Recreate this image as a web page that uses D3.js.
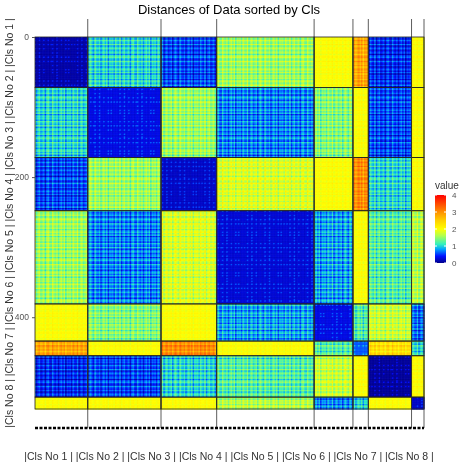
<!DOCTYPE html>
<html><head><meta charset="utf-8">
<script src="https://cdn.jsdelivr.net/npm/d3@7"></script>
<style>body{margin:0;background:#fff}svg,canvas{position:absolute;left:0;top:0}</style>
</head><body>
<canvas id="c" width="474" height="467"></canvas>
<svg id="s" width="474" height="467"></svg>
<script>
// cluster sizes (points per class, in sorted order)
const clusterSizes = [72, 100, 76, 133, 53, 21, 59, 17];
// mean distance between cluster blocks (row cluster x column cluster)
const blockMeans = [
 [0.10, 1.00, 0.50, 1.50, 2.00, 2.80, 0.40, 2.00],
 [1.00, 0.30, 1.50, 0.70, 1.40, 2.00, 0.50, 2.00],
 [0.50, 1.50, 0.20, 1.80, 2.00, 3.00, 1.00, 2.00],
 [1.50, 0.70, 1.80, 0.25, 0.80, 2.00, 1.20, 1.60],
 [2.00, 1.40, 2.00, 0.80, 0.30, 1.20, 1.70, 0.60],
 [2.80, 2.00, 3.00, 2.00, 1.20, 0.60, 2.30, 1.00],
 [0.40, 0.50, 1.00, 1.20, 1.70, 2.00, 0.05, 2.00],
 [2.00, 2.00, 2.00, 1.60, 0.70, 1.00, 2.00, 0.20]
];
// per-point stripe offsets (cycled)
const stripeOffsets = [0.1,-0.2,0.25,0,-0.1,0.3,-0.25,0.05,0.2,-0.15,0,0.15,-0.3,0.1,0.25,-0.05,-0.2,0.3,0,-0.1,0.15,-0.25,0.05,0.2,-0.1,0.2,-0.3,0.1,0];
const yTicks = [0, 200, 400];
const legendTicks = [0, 1, 2, 3, 4];
const title = "Distances of Data sorted by Cls";
const xLabel = clusterSizes.map((d,i)=>"|Cls No "+(i+1)+" |").join(" ");
const yLabel = clusterSizes.map((d,i)=>"|Cls No "+(i+1)+" |").reverse().join(" ");

const N = d3.sum(clusterSizes);
const starts = []; let acc = 0; clusterSizes.forEach(s=>{starts.push(acc); acc+=s;});
const clusterOf = i => { let k=0; while(k<clusterSizes.length-1 && i>=starts[k+1]) k++; return k; };

const L=35,R=424,T=37,B=409;
const x = d3.scaleLinear().domain([0,N]).range([L,R]);
const y = d3.scaleLinear().domain([0,N]).range([T,B]);
const color = d3.scaleLinear()
  .domain([0,0.4,0.8,1.1,1.6,2,2.5,3,4])
  .range(["#00008a","#0010ff","#00a0ff","#30f0c0","#b0ff50","#ffff00","#ffd000","#ff9000","#ff0000"])
  .clamp(true);

const ctx = document.getElementById("c").getContext("2d");
const cl = d3.range(N).map(clusterOf);
const SO = stripeOffsets.length;
const off = i => stripeOffsets[Math.floor(i/2)%SO];
for(let i=0;i<N;i++){
  for(let j=0;j<N;j++){
    const m = blockMeans[cl[i]][cl[j]];
    let v;
    if(cl[i]===cl[j]){
      const s = off(i)+off(j+5);
      v = m + (s>0.35 ? 0.3 : 0) + 0.1*s;
    } else {
      const amp = (m>=1.9 && m<=2.1) ? 0.35 : 0.9;
      v = m + amp*(off(i)+off(j+11));
    }
    ctx.fillStyle = color(Math.max(0,v));
    ctx.fillRect(x(j), y(i), x(j+1)-x(j)+0.5, y(i+1)-y(i)+0.5);
  }
}

const svg = d3.select("#s");
svg.append("text").attr("x",229).attr("y",14).attr("text-anchor","middle")
  .attr("font-family","Liberation Sans, Arial").attr("font-size",13).text(title);

const g = svg.append("g");
clusterSizes.forEach((si,a)=>clusterSizes.forEach((sj,b)=>{
  g.append("rect").attr("x",x(starts[b])).attr("y",y(starts[a]))
   .attr("width",x(starts[b]+sj)-x(starts[b])).attr("height",y(starts[a]+si)-y(starts[a]))
   .attr("fill","none").attr("stroke","#222").attr("stroke-width",0.8);
}));
clusterSizes.forEach((s,k)=>{
  const xv = x(starts[k]+s);
  g.append("line").attr("x1",xv).attr("x2",xv).attr("y1",19).attr("y2",428)
   .attr("stroke","#333").attr("stroke-width",0.8);
});
g.append("line").attr("x1",L).attr("x2",R).attr("y1",428).attr("y2",428)
 .attr("stroke","#000").attr("stroke-width",2.5).attr("stroke-dasharray","3,1.5");

const ya = svg.append("g").attr("transform",`translate(${L},0)`)
  .call(d3.axisLeft(y).tickValues(yTicks).tickSize(3));
ya.select(".domain").remove();
ya.selectAll("text").attr("fill","#555").attr("font-size",8.5).attr("font-family","Liberation Sans, Arial");
ya.selectAll("line").attr("stroke","#555");

svg.append("text").attr("transform",`translate(13,${(T+B)/2}) rotate(-90)`)
  .attr("text-anchor","middle").attr("font-family","Liberation Sans, Arial")
  .attr("font-size",10.5).attr("fill","#333").text(yLabel);
svg.append("text").attr("x",229).attr("y",460).attr("text-anchor","middle")
  .attr("font-family","Liberation Sans, Arial").attr("font-size",10.5).attr("fill","#333").text(xLabel);

const lg = svg.append("g");
lg.append("text").attr("x",435).attr("y",189).attr("font-family","Liberation Sans, Arial")
  .attr("font-size",10).attr("fill","#333").text("value");
const ly = d3.scaleLinear().domain([0,4]).range([263,195]);
const defs = svg.append("defs");
const grad = defs.append("linearGradient").attr("id","lgd").attr("x1",0).attr("x2",0).attr("y1",1).attr("y2",0);
d3.range(0,4.01,0.1).forEach(v=>grad.append("stop").attr("offset",v/4).attr("stop-color",color(v)));
lg.append("rect").attr("x",435).attr("y",ly(4)).attr("width",11).attr("height",ly(0)-ly(4)).attr("fill","url(#lgd)");
legendTicks.forEach(t=>{
  lg.append("line").attr("x1",435).attr("x2",437).attr("y1",ly(t)).attr("y2",ly(t)).attr("stroke","#fff");
  lg.append("line").attr("x1",444).attr("x2",446).attr("y1",ly(t)).attr("y2",ly(t)).attr("stroke","#fff");
  lg.append("text").attr("x",452).attr("y",ly(t)+3).attr("font-size",8).attr("fill","#555")
    .attr("font-family","Liberation Sans, Arial").text(t);
});
</script>
</body></html>
